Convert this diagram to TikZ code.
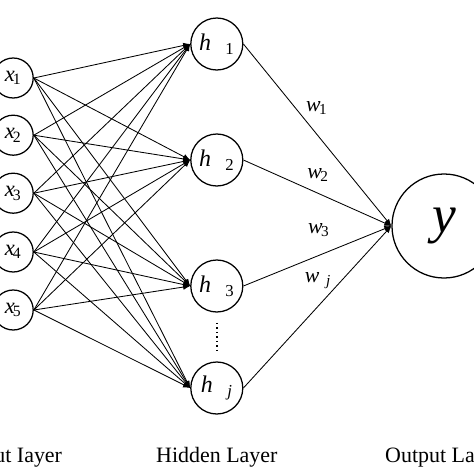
\documentclass[tikz,border=0pt]{standalone}
\usepackage{fontspec}
\setmainfont{Liberation Serif}
\usetikzlibrary{arrows.meta}

\begin{document}
\begin{tikzpicture} [
    xn/.style={
        circle, draw, line width=0.9pt,
        minimum size=1cm, inner sep=0pt,
        font=\fontsize{16}{16}\selectfont
    },
    hn/.style={
        circle, draw, line width=0.9pt,
        minimum size=1.3cm, inner sep=0pt,
        font=\fontsize{17}{17}\selectfont
    },
    yn/.style={
        circle, draw, line width=0.9pt,
        minimum size=2.6cm, inner sep=0pt,
        font=\fontsize{38}{38}\selectfont\itshape
    },
    wl/.style={
        font=\fontsize{15.5}{15.5}\selectfont
    },
    ll/.style={
        font=\fontsize{15.6}{15.6}\selectfont,
        anchor=base
    },
    cn/.style={
        line width=0.6pt,
        -{Latex[length=5pt,width=4pt]}
    }
]

\clip (0,0) rectangle (11.85,-11.85);

\node [xn] (x1) at (0.33,-1.95) {\textit{x}\kern-1.5pt\textsubscript{1}};
\node [xn] (x2) at (0.33,-3.38) {\textit{x}\kern-1.5pt\textsubscript{2}};
\node [xn] (x3) at (0.33,-4.83) {\textit{x}\kern-1.5pt\textsubscript{3}};
\node [xn] (x4) at (0.33,-6.30) {\textit{x}\kern-1.5pt\textsubscript{4}};
\node [xn] (x5) at (0.33,-7.75) {\textit{x}\kern-1.5pt\textsubscript{5}};

\node [hn] (h1) at (5.42,-1.10) {\textit{h}\hspace{0.6em}\textsubscript{1}};
\node [hn] (h2) at (5.42,-4.00) {\textit{h}\hspace{0.6em}\textsubscript{2}};
\node [hn] (h3) at (5.42,-7.15) {\textit{h}\hspace{0.6em}\textsubscript{3}};
\node [hn] (hj) at (5.42,-9.70) {\textit{h}\hspace{0.6em}\textsubscript{\textit{j}}};

% dots between h3 and hj
\draw [line width=1.3pt, dash pattern=on 1pt off 2.2pt] (5.42,-8.07) -- (5.42,-8.80);

\node [yn] (y) at (11.10,-5.65) {y};

\foreach \i in {1,...,5}
    \foreach \j in {1,2,3,j}
        \draw [cn] (x\i.east) -- (h\j.west);

\foreach \j in {1,2,3,j}
    \draw [cn] (h\j.east) -- (y.west);

\node [wl] (w1) at (7.92,-2.70) {\textit{w}\kern-1pt\textsubscript{1}};
\node [wl] (w2) at (7.95,-4.38) {\textit{w}\kern-1pt\textsubscript{2}};
\node [wl] (w3) at (7.97,-5.75) {\textit{w}\kern-1pt\textsubscript{3}};
\node [wl] (wj) at (7.95,-7.02) {\textit{w}\hspace{0.3em}\textsubscript{\textit{j}}};

\node [ll] (linput)  at (0.34,-11.55)  {Input Iayer};
\node [ll] (lhidden) at (5.42,-11.55)  {Hidden Layer};
\node [ll] (loutput) at (11.10,-11.55) {Output Layer};

\end{tikzpicture}
\end{document}
